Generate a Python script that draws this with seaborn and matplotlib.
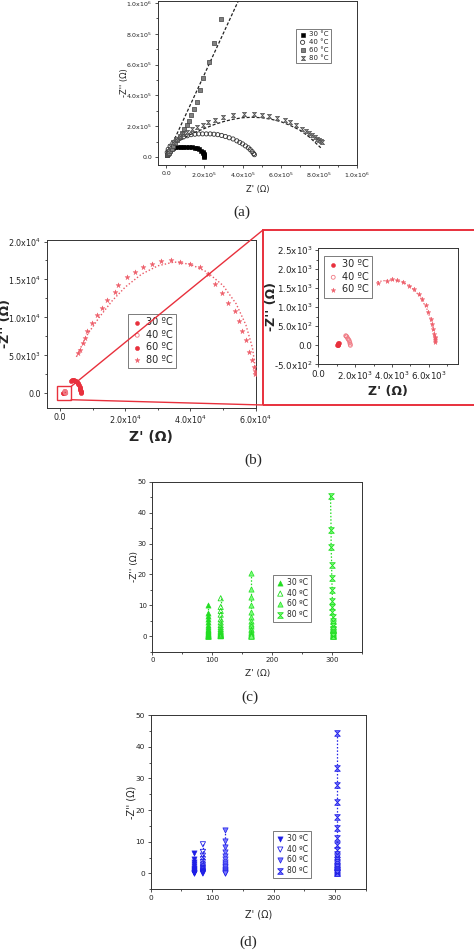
import numpy as np
import pandas as pd
import matplotlib
matplotlib.use('Agg')
import matplotlib.pyplot as plt
import seaborn as sns
from matplotlib.path import Path
from matplotlib.patches import Rectangle, ConnectionPatch
from matplotlib.ticker import FixedLocator, FixedFormatter, MultipleLocator

# ---------------- panel (a)  (units of 1e5 ohm) ----------------
a_labels = ["30 °C", "40 °C", "60 °C", "80 °C"]
a30_x = [0.05, 0.08, 0.12, 0.18, 0.25, 0.35, 0.45, 0.6, 0.75, 0.9, 1.05, 1.2, 1.35, 1.5, 1.62, 1.73, 1.82, 1.9, 1.95, 1.98, 2.0, 2.0, 2.0]
a30_y = [0.15, 0.25, 0.35, 0.45, 0.52, 0.58, 0.62, 0.65, 0.67, 0.68, 0.68, 0.67, 0.65, 0.61, 0.56, 0.5, 0.42, 0.34, 0.26, 0.18, 0.1, 0.05, 0.02]
a40_x = [0.05, 0.1, 0.2, 0.35, 0.5, 0.7, 0.9, 1.1, 1.3, 1.5, 1.7, 1.9, 2.1, 2.3, 2.5, 2.7, 2.9, 3.1, 3.3, 3.5, 3.7, 3.85, 4.0, 4.15, 4.3, 4.4, 4.5, 4.58, 4.62]
a40_y = [0.3, 0.5, 0.7, 0.9, 1.05, 1.2, 1.3, 1.38, 1.45, 1.48, 1.5, 1.5, 1.5, 1.5, 1.48, 1.45, 1.4, 1.33, 1.25, 1.17, 1.05, 0.95, 0.85, 0.72, 0.6, 0.48, 0.35, 0.22, 0.15]
a60_x = [0.04, 0.08, 0.13, 0.2, 0.28, 0.37, 0.47, 0.58, 0.7, 0.82, 0.95, 1.08, 1.2, 1.32, 1.45, 1.6, 1.75, 1.95, 2.22, 2.52, 2.85]
a60_y = [0.1, 0.18, 0.28, 0.4, 0.55, 0.72, 0.9, 1.1, 1.3, 1.55, 1.8, 2.05, 2.35, 2.7, 3.1, 3.6, 4.35, 5.1, 6.15, 7.42, 8.98]
a60_fit_x = [0.0, 3.8]
a60_fit_y = [0.0, 10.2]
a80_x = [0.1, 0.2, 0.35, 0.5, 0.7, 0.9, 1.1, 1.35, 1.6, 1.9, 2.2, 2.55, 3.0, 3.5, 4.1, 4.6, 5.0, 5.4, 5.8, 6.2, 6.5, 6.8, 7.1, 7.3, 7.5, 7.65, 7.8, 7.9, 8.0, 8.1, 8.15]
a80_y = [0.4, 0.7, 0.95, 1.15, 1.35, 1.5, 1.65, 1.8, 1.95, 2.1, 2.25, 2.4, 2.6, 2.72, 2.8, 2.78, 2.72, 2.65, 2.5, 2.38, 2.25, 2.05, 1.85, 1.7, 1.55, 1.42, 1.3, 1.2, 1.1, 1.05, 1.0]
a80_fit_x = [0.05, 0.3, 0.6, 1.0, 1.5, 2.0, 2.5, 3.0, 3.5, 4.0, 4.5, 5.0, 5.5, 6.0, 6.5, 7.0, 7.5, 7.8, 8.1]
a80_fit_y = [0.2, 0.7, 1.0, 1.3, 1.6, 1.85, 2.1, 2.3, 2.45, 2.55, 2.58, 2.55, 2.45, 2.3, 2.05, 1.75, 1.3, 0.95, 0.6]
a_xticks = [0, 2, 4, 6, 8, 10]
a_xticklabels = ["0.0", "2.0x10$^5$", "4.0x10$^5$", "6.0x10$^5$", "8.0x10$^5$", "1.0x10$^6$"]
a_yticks = [0, 2, 4, 6, 8, 10]
a_yticklabels = ["0.0", "2.0x10$^5$", "4.0x10$^5$", "6.0x10$^5$", "8.0x10$^5$", "1.0x10$^6$"]

# ---------------- panel (b)  (units of kOhm) ----------------
b_labels = ["30 ºC", "40 ºC", "60 ºC", "80 ºC"]
b30_x = [1.04, 1.06, 1.08, 1.05, 1.1, 1.07, 1.09]
b30_y = [0.0, 0.02, 0.04, 0.06, 0.05, 0.03, 0.01]
b40_x = [1.49, 1.52, 1.55, 1.6, 1.64, 1.68, 1.71, 1.73, 1.74]
b40_y = [0.25, 0.24, 0.22, 0.18, 0.15, 0.12, 0.07, 0.03, 0.0]
b60_x = [3.24, 3.73, 4.0, 4.28, 4.59, 4.92, 5.19, 5.46, 5.65, 5.83, 5.97, 6.1, 6.19, 6.25, 6.3, 6.32, 6.34, 6.34, 6.35]
b60_y = [1.65, 1.70, 1.74, 1.72, 1.66, 1.57, 1.47, 1.34, 1.21, 1.05, 0.88, 0.70, 0.56, 0.43, 0.29, 0.18, 0.09, 0.14, 0.22]
b60_fit_x = [3.2, 3.6, 4.0, 4.5, 5.0, 5.5, 5.9, 6.15, 6.3, 6.35]
b60_fit_y = [1.67, 1.70, 1.72, 1.68, 1.55, 1.3, 0.95, 0.6, 0.3, 0.1]
b80_x = [5.6, 6.1, 6.9, 7.7, 8.4, 9.7, 11.2, 12.8, 14.5, 16.8, 17.9, 20.4, 23.0, 25.3, 28.1, 30.9, 33.9, 36.7, 39.8, 42.9, 45.4, 47.4, 49.8, 51.5, 53.6, 54.9, 55.9, 56.9, 58.0, 58.9, 59.4, 59.7, 59.9]
b80_y = [5.3, 5.7, 6.6, 7.3, 8.2, 9.2, 10.3, 11.2, 12.3, 13.4, 14.3, 15.3, 16.0, 16.6, 17.0, 17.4, 17.5, 17.3, 17.0, 16.6, 15.7, 14.4, 13.2, 11.9, 10.8, 9.5, 8.2, 7.0, 5.5, 4.4, 3.5, 2.9, 2.5]
b80_fit_x = [5.0, 8.0, 12.0, 16.0, 20.0, 25.0, 30.0, 35.0, 40.0, 45.0, 50.0, 54.0, 57.0, 59.0, 60.0]
b80_fit_y = [4.8, 7.5, 10.0, 12.2, 14.0, 15.7, 16.8, 17.3, 17.0, 16.0, 14.2, 11.8, 9.0, 6.0, 3.0]
b_xticks = [0, 20, 40, 60]
b_xticklabels = ["0.0", "2.0x10$^4$", "4.0x10$^4$", "6.0x10$^4$"]
b_yticks = [0, 5, 10, 15, 20]
b_yticklabels = ["0.0", "5.0x10$^3$", "1.0x10$^4$", "1.5x10$^4$", "2.0x10$^4$"]
bi_xticks = [0, 2, 4, 6]
bi_xticklabels = ["0.0", "2.0x10$^3$", "4.0x10$^3$", "6.0x10$^3$"]
bi_yticks = [-0.5, 0, 0.5, 1.0, 1.5, 2.0, 2.5]
bi_yticklabels = ["-5.0x10$^2$", "0.0", "5.0x10$^2$", "1.0x10$^3$", "1.5x10$^3$", "2.0x10$^3$", "2.5x10$^3$"]

# ---------------- panel (c) ----------------
c_labels = ["30 ºC", "40 ºC", "60 ºC", "80 ºC"]
c30_x = [93] * 20
c30_y = [10, 7.5, 6.5, 5.5, 4.5, 3.8, 3.1, 2.5, 2.0, 1.6, 1.3, 1.0, 0.8, 0.6, 0.4, 0.3, 0.2, 0.1, 0.05, 0]
c40_x = [114] * 18
c40_y = [12.3, 9.5, 8.2, 7.0, 5.5, 4.5, 3.6, 2.9, 2.3, 1.8, 1.4, 1.0, 0.7, 0.5, 0.3, 0.2, 0.1, 0]
c60_x = [164] * 19
c60_y = [20.5, 15.3, 12.7, 10.2, 8.0, 6.3, 5.0, 4.0, 3.2, 2.5, 2.0, 1.5, 1.1, 0.8, 0.5, 0.3, 0.15, 0.05, 0]
c80_x = [297, 298, 298, 299, 299, 300, 300, 300, 300, 301, 301, 301, 301, 301, 301, 301, 301, 301, 301, 301, 301, 301]
c80_y = [45.5, 34.5, 28.8, 23.2, 18.7, 15, 11.5, 9.5, 7.8, 6.3, 5, 4, 3.2, 2.5, 2, 1.5, 1.1, 0.8, 0.5, 0.3, 0.1, 0]

# ---------------- panel (d) ----------------
d_labels = ["30 ºC", "40 ºC", "60 ºC", "80 ºC"]
d30_x = [70] * 13
d30_y = [6.3, 4.5, 3.6, 2.9, 2.3, 1.8, 1.4, 1.0, 0.7, 0.5, 0.3, 0.15, 0]
d40_x = [85] * 14
d40_y = [9.2, 6.8, 5.6, 4.5, 3.6, 2.8, 2.2, 1.7, 1.3, 0.9, 0.6, 0.4, 0.2, 0]
d60_x = [121] * 16
d60_y = [13.7, 10.2, 8.4, 6.9, 5.6, 4.6, 3.7, 3.0, 2.4, 1.9, 1.4, 1.0, 0.7, 0.4, 0.2, 0]
d80_x = [303] * 22
d80_y = [44.4, 33.3, 27.8, 22.4, 17.8, 14.2, 11.1, 9.0, 7.5, 6.2, 5.2, 4.3, 3.6, 3.0, 2.4, 1.9, 1.4, 1.0, 0.7, 0.4, 0.2, 0]
cd_ticks_x = [0, 100, 200, 300]
cd_ticks_y = [0, 10, 20, 30, 40, 50]

# ------------------------------------------------------------
sns.set_style("ticks")
plt.rcParams['font.family'] = ['DejaVu Sans']
plt.rcParams['mathtext.default'] = 'regular'

W, H = 474, 950
fig = plt.figure(figsize=(W / 100, H / 100), dpi=100)


def rect(l, r, t, b):
    return [l / W, 1 - b / H, (r - l) / W, (b - t) / H]


hour = Path([(-1, 1), (1, 1), (-1, -1), (1, -1), (-1, 1)],
            [Path.MOVETO, Path.LINETO, Path.LINETO, Path.LINETO, Path.CLOSEPOLY])


def style(ax, fs):
    for sp in ax.spines.values():
        sp.set_linewidth(0.7)
        sp.set_color('#333333')
    ax.tick_params(which='both', direction='out', labelsize=fs, width=0.6,
                   color='#333333', pad=1.5, labelcolor='#222222')
    ax.tick_params(which='major', length=2.5)
    ax.tick_params(which='minor', length=1.5)


def pts(ax, x, y, marker, s, face, edge, lw=0.5, label=None):
    sns.scatterplot(x=x, y=y, ax=ax, marker=marker, s=s, color=face,
                    edgecolor=edge, linewidth=lw, label=label, zorder=3)


def line(ax, x, y, color, ls=':', lw=0.9):
    sns.lineplot(x=x, y=y, ax=ax, sort=False, estimator=None, color=color,
                 linestyle=ls, linewidth=lw, zorder=2)


def set_ticks(ax, xt, xl, yt, yl):
    ax.xaxis.set_major_locator(FixedLocator(xt))
    ax.xaxis.set_major_formatter(FixedFormatter(xl))
    ax.yaxis.set_major_locator(FixedLocator(yt))
    ax.yaxis.set_major_formatter(FixedFormatter(yl))


def legend(ax, l, t, fs):
    leg = ax.legend(loc='upper left', bbox_to_anchor=(l / W, 1 - t / H),
                    bbox_transform=fig.transFigure, fontsize=fs, frameon=True,
                    fancybox=False, edgecolor='#666666', framealpha=1,
                    borderpad=0.35, labelspacing=0.25, handletextpad=0.3,
                    handlelength=1.2, borderaxespad=0)
    leg.get_frame().set_linewidth(0.6)
    return leg


# ---------------- (a) ----------------
axa = fig.add_axes(rect(157.7, 357, 1, 165))
line(axa, a60_fit_x, a60_fit_y, '#222222', ls=(0, (2.5, 1.5)), lw=0.9)
line(axa, a80_fit_x, a80_fit_y, '#222222', ls=(0, (2.5, 1.5)), lw=0.9)
pts(axa, a30_x, a30_y, 's', 9, '#000000', '#000000', 0.4, a_labels[0])
pts(axa, a40_x, a40_y, 'o', 9, 'none', '#333333', 0.6, a_labels[1])
pts(axa, a60_x, a60_y, 's', 9, '#808080', '#404040', 0.5, a_labels[2])
pts(axa, a80_x, a80_y, hour, 9, '#9a9a9a', '#505050', 0.5, a_labels[3])
axa.set_xlim(-0.45, 10)
axa.set_ylim(-0.52, 10.13)
set_ticks(axa, a_xticks, a_xticklabels, a_yticks, a_yticklabels)
axa.xaxis.set_minor_locator(MultipleLocator(1))
axa.yaxis.set_minor_locator(MultipleLocator(1))
style(axa, 4.5)
axa.set_xlabel("Z' (Ω)", fontsize=6)
axa.set_ylabel("-Z'' (Ω)", fontsize=6)
axa.xaxis.set_label_coords(0.5, -0.119)
axa.yaxis.set_label_coords(-0.145, 0.5)
legend(axa, 296, 29, 5)

# ---------------- (b) main ----------------
red = '#e8303c'
pink = '#f07a84'
axb = fig.add_axes(rect(46.7, 255.7, 240, 407.7))
line(axb, b80_fit_x, b80_fit_y, '#ea5a66', ls=(0, (1, 1.5)), lw=1.0)
line(axb, b60_fit_x, b60_fit_y, red, ls='-', lw=1.2)
pts(axb, b30_x, b30_y, 'o', 8, red, red, 0.4, b_labels[0])
pts(axb, b40_x, b40_y, 'o', 8, 'none', pink, 0.6, b_labels[1])
pts(axb, b60_x, b60_y, 'o', 9, red, red, 0.4, b_labels[2])
pts(axb, b80_x, b80_y, '*', 14, '#ee5c68', '#ee5c68', 0.3, b_labels[3])
axb.set_xlim(-4.1, 60)
axb.set_ylim(-1.9, 20.2)
set_ticks(axb, b_xticks, b_xticklabels, b_yticks, b_yticklabels)
axb.xaxis.set_minor_locator(MultipleLocator(10))
axb.yaxis.set_minor_locator(MultipleLocator(2.5))
style(axb, 5.8)
axb.set_xlabel("Z' (Ω)", fontsize=10, fontweight='bold')
axb.set_ylabel("-Z'' (Ω)", fontsize=9, fontweight='bold')
axb.xaxis.set_label_coords(0.5, -0.133)
axb.yaxis.set_label_coords(-0.165, 0.5)
legend(axb, 128, 314, 7)
axb.add_patch(Rectangle((-0.8, -0.85), 4.2, 1.75, fill=False, edgecolor=red, lw=1.0, zorder=4))

# outer box for the inset
fig.add_artist(Rectangle((263 / W, 1 - 405 / H), (W + 5 - 263) / W, (405 - 230) / H,
                         transform=fig.transFigure, fill=False, edgecolor=red, lw=1.4))
for xa, ya, xb, yb in [(3.4, 0.9, 263, 230), (3.4, -0.85, 263, 405)]:
    con = ConnectionPatch(xyA=(xa, ya), coordsA=axb.transData,
                          xyB=(xb / W, 1 - yb / H), coordsB=fig.transFigure,
                          color=red, lw=1.0)
    fig.add_artist(con)

# ---------------- (b) inset ----------------
axi = fig.add_axes(rect(318.3, 458.3, 248.3, 364.3))
line(axi, b60_fit_x, b60_fit_y, '#ea5a66', ls=(0, (1, 1.5)), lw=0.9)
pts(axi, b30_x, b30_y, 'o', 8, red, red, 0.4, b_labels[0])
pts(axi, b40_x, b40_y, 'o', 8, 'none', pink, 0.6, b_labels[1])
pts(axi, b60_x, b60_y, '*', 12, '#ee5c68', '#ee5c68', 0.3, b_labels[2])
axi.set_xlim(0, 7.6)
axi.set_ylim(-0.5, 2.55)
set_ticks(axi, bi_xticks, bi_xticklabels, bi_yticks, bi_yticklabels)
axi.xaxis.set_minor_locator(MultipleLocator(1))
axi.yaxis.set_minor_locator(MultipleLocator(0.25))
style(axi, 6.3)
axi.set_xlabel("Z' (Ω)", fontsize=9, fontweight='bold')
axi.set_ylabel("-Z'' (Ω)", fontsize=9, fontweight='bold')
axi.xaxis.set_label_coords(0.5, -0.178)
axi.yaxis.set_label_coords(-0.285, 0.5)
legend(axi, 324, 256, 7)

# ---------------- (c) ----------------
g1, g2 = '#22dd22', '#7cff7c'
axc = fig.add_axes(rect(152.3, 362.3, 481.7, 651.7))
for xs, ys in [(c30_x, c30_y), (c40_x, c40_y), (c60_x, c60_y), (c80_x, c80_y)]:
    line(axc, xs, ys, g1, ls=(0, (1.2, 1.5)), lw=0.9)
pts(axc, c30_x, c30_y, '^', 14, g1, g1, 0.4, c_labels[0])
pts(axc, c40_x, c40_y, '^', 14, 'none', g1, 0.6, c_labels[1])
pts(axc, c60_x, c60_y, '^', 14, g2, g1, 0.5, c_labels[2])
pts(axc, c80_x, c80_y, hour, 16, g2, g1, 0.6, c_labels[3])
axc.set_xlim(0, 350)
axc.set_ylim(-5, 50)
set_ticks(axc, cd_ticks_x, [str(v) for v in cd_ticks_x], cd_ticks_y, [str(v) for v in cd_ticks_y])
axc.xaxis.set_minor_locator(MultipleLocator(50))
axc.yaxis.set_minor_locator(MultipleLocator(5))
style(axc, 5)
axc.set_xlabel("Z' (Ω)", fontsize=6.5)
axc.set_ylabel("-Z'' (Ω)", fontsize=6.5)
axc.xaxis.set_label_coords(0.5, -0.102)
axc.yaxis.set_label_coords(-0.065, 0.5)
legend(axc, 273, 575, 5.5)

# ---------------- (d) ----------------
b1, b2 = '#1e1ee6', '#7a7aff'
axd = fig.add_axes(rect(150.7, 365.7, 715, 889.3))
for xs, ys in [(d30_x, d30_y), (d40_x, d40_y), (d60_x, d60_y), (d80_x, d80_y)]:
    line(axd, xs, ys, b1, ls=(0, (1.2, 1.5)), lw=0.9)
pts(axd, d30_x, d30_y, 'v', 14, b1, b1, 0.4, d_labels[0])
pts(axd, d40_x, d40_y, 'v', 14, 'none', b1, 0.6, d_labels[1])
pts(axd, d60_x, d60_y, 'v', 14, b2, b1, 0.5, d_labels[2])
pts(axd, d80_x, d80_y, hour, 16, b2, b1, 0.6, d_labels[3])
axd.set_xlim(0, 350)
axd.set_ylim(-5, 50)
set_ticks(axd, cd_ticks_x, [str(v) for v in cd_ticks_x], cd_ticks_y, [str(v) for v in cd_ticks_y])
axd.xaxis.set_minor_locator(MultipleLocator(50))
axd.yaxis.set_minor_locator(MultipleLocator(5))
style(axd, 5.3)
axd.set_xlabel("Z' (Ω)", fontsize=7)
axd.set_ylabel("-Z'' (Ω)", fontsize=7)
axd.xaxis.set_label_coords(0.5, -0.116)
axd.yaxis.set_label_coords(-0.064, 0.5)
legend(axd, 273, 831, 5.5)

# captions
for txt, x, y in [("(a)", 242, 212), ("(b)", 253, 460), ("(c)", 250, 697), ("(d)", 248, 942)]:
    fig.text(x / W, 1 - y / H, txt, ha='center', va='center', fontsize=11,
             family=['Liberation Serif', 'DejaVu Serif'])

fig.savefig('out.png', dpi=100)
